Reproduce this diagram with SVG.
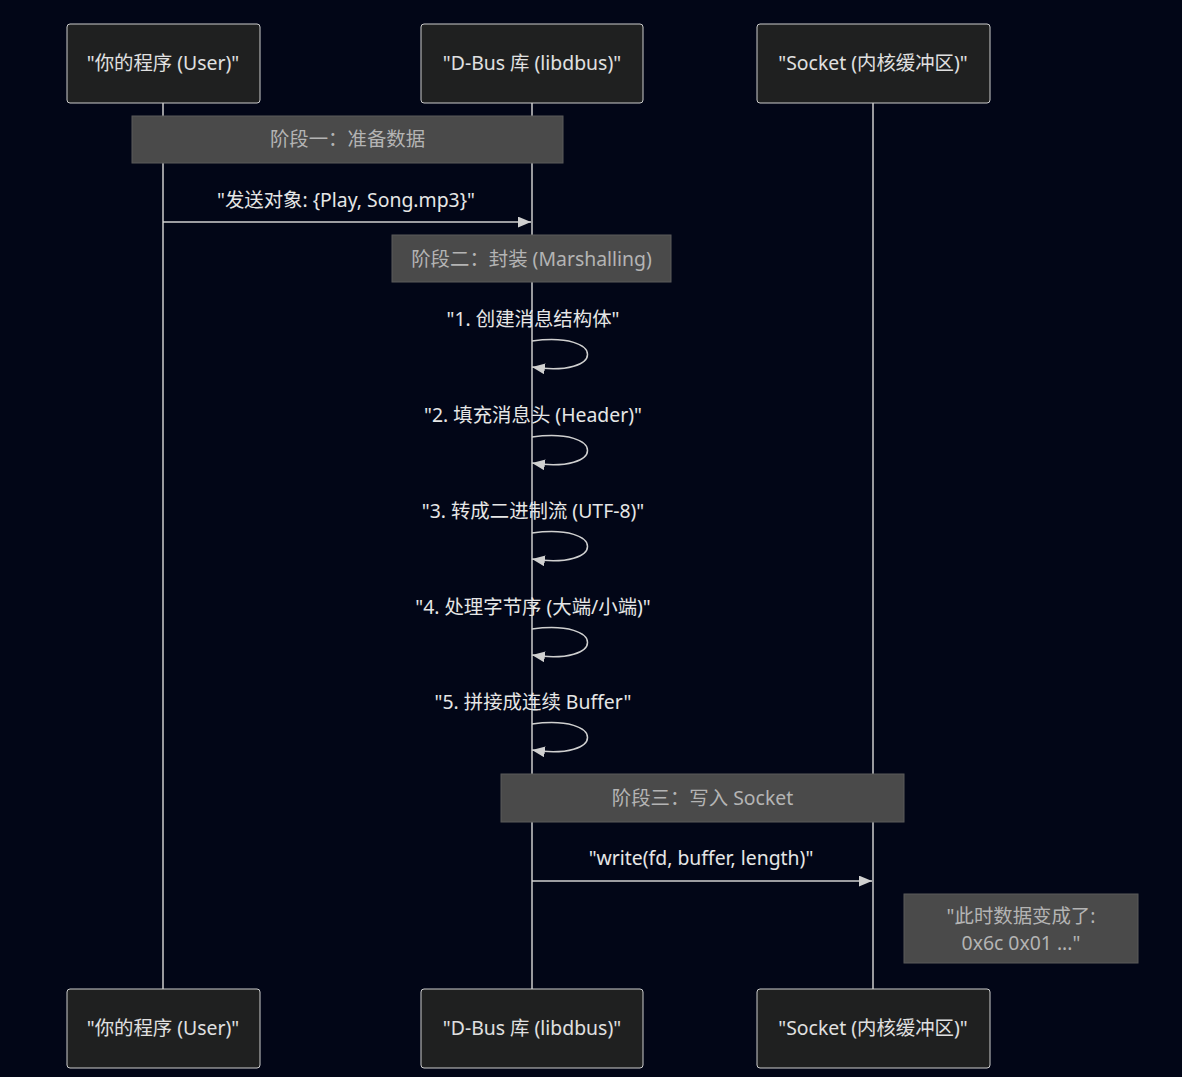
<svg xmlns="http://www.w3.org/2000/svg" width="1182" height="1077" viewBox="0 0 1182 1077">
<defs>
<style>
text{font-family:"Noto Sans","Noto Sans CJK SC",sans-serif;font-size:19.4px;text-anchor:middle;dominant-baseline:central}
.actor rect{fill:#1f2020;stroke:#cccccc;stroke-width:1}
.actor text{fill:#e0e0e0}
.note rect{fill:#4a4a4a;stroke:#5a5a5a;stroke-width:1}
.note text{fill:#b4b4b4}
.life{stroke:#cccccc;stroke-width:1.5}
.msg{stroke:#d0d0d0;stroke-width:1.5;fill:none}
.mtext{fill:#e6e6e6}
</style>
<marker id="ah" viewBox="0 0 12 10" refX="12" refY="5" markerWidth="13" markerHeight="11" markerUnits="userSpaceOnUse" orient="auto">
<path d="M0,0 L12,5 L0,10 z" fill="#d0d0d0"/>
</marker>
</defs>
<rect width="1182" height="1077" fill="#020617"/>
<g id="lifelines">
<line class="life" x1="163" y1="103" x2="163" y2="989"/>
<line class="life" x1="532" y1="103" x2="532" y2="989"/>
<line class="life" x1="873" y1="103" x2="873" y2="989"/>
</g>
<g id="actor-user-top" class="actor"><rect x="67" y="24" width="193" height="79" rx="3"/><text x="163" y="62">"你的程序 (User)"</text></g>
<g id="actor-dbus-top" class="actor"><rect x="421" y="24" width="222" height="79" rx="3"/><text x="532" y="62">"D-Bus 库 (libdbus)"</text></g>
<g id="actor-socket-top" class="actor"><rect x="757" y="24" width="233" height="79" rx="3"/><text x="873" y="62">"Socket (内核缓冲区)"</text></g>
<g id="actor-user-bottom" class="actor"><rect x="67" y="989" width="193" height="79" rx="3"/><text x="163" y="1027">"你的程序 (User)"</text></g>
<g id="actor-dbus-bottom" class="actor"><rect x="421" y="989" width="222" height="79" rx="3"/><text x="532" y="1027">"D-Bus 库 (libdbus)"</text></g>
<g id="actor-socket-bottom" class="actor"><rect x="757" y="989" width="233" height="79" rx="3"/><text x="873" y="1027">"Socket (内核缓冲区)"</text></g>
<g id="note1" class="note"><rect x="132" y="116" width="431" height="47"/><text x="347.5" y="138">阶段一：准备数据</text></g>
<g id="note2" class="note"><rect x="392" y="235" width="279" height="47"/><text x="531.5" y="258">阶段二：封装 (Marshalling)</text></g>
<g id="note3" class="note"><rect x="501" y="774" width="403" height="48"/><text x="702.5" y="797">阶段三：写入 Socket</text></g>
<g id="note4" class="note"><rect x="904" y="894" width="234" height="69"/><text x="1021" y="915">"此时数据变成了:</text><text x="1021" y="942">0x6c 0x01 ..."</text></g>
<g id="connectors">
<line class="msg" x1="163" y1="222" x2="531" y2="222" marker-end="url(#ah)"/>
<text class="mtext" x="346" y="199">"发送对象: {Play, Song.mp3}"</text>
<path class="msg" d="M532,341 C606,331 606,378 532,367" marker-end="url(#ah)"/>
<text class="mtext" x="533" y="318">"1. 创建消息结构体"</text>
<path class="msg" d="M532,437 C606,427 606,474 532,463" marker-end="url(#ah)"/>
<text class="mtext" x="533" y="414">"2. 填充消息头 (Header)"</text>
<path class="msg" d="M532,533 C606,523 606,570 532,559" marker-end="url(#ah)"/>
<text class="mtext" x="533" y="510">"3. 转成二进制流 (UTF-8)"</text>
<path class="msg" d="M532,629 C606,619 606,666 532,655" marker-end="url(#ah)"/>
<text class="mtext" x="533" y="606">"4. 处理字节序 (大端/小端)"</text>
<path class="msg" d="M532,724 C606,714 606,761 532,750" marker-end="url(#ah)"/>
<text class="mtext" x="533" y="701">"5. 拼接成连续 Buffer"</text>
<line class="msg" x1="532" y1="881" x2="872" y2="881" marker-end="url(#ah)"/>
<text class="mtext" x="701" y="857">"write(fd, buffer, length)"</text>
</g>
</svg>
